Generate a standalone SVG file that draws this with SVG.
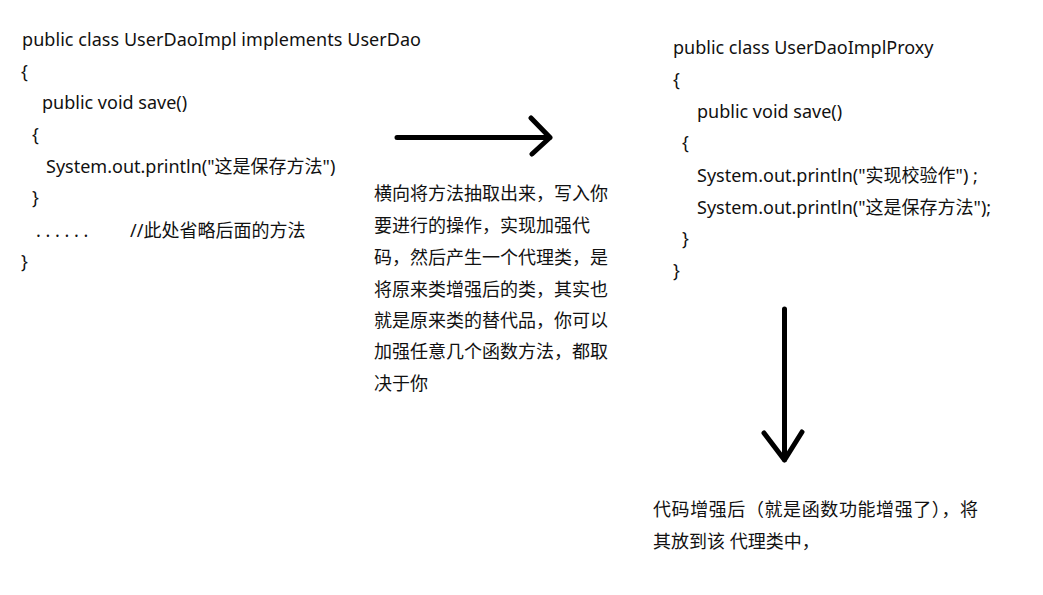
<svg xmlns="http://www.w3.org/2000/svg" width="1043" height="595" viewBox="0 0 1043 595">
<style>
text{font-family:"Noto Sans","Noto Sans CJK SC",sans-serif;font-size:18px;fill:#111}
.arrow{stroke:#000;stroke-width:5;fill:none;stroke-linecap:round;stroke-linejoin:round}
</style>
<rect width="1043" height="595" fill="#fff"/>
<g id="original-class">
<text x="22" y="46" textLength="399">public class UserDaoImpl implements UserDao</text>
<text x="21" y="78">{</text>
<text x="42" y="109">public void save()</text>
<text x="32" y="141">{</text>
<text x="46" y="173">System.out.println("这是保存方法")</text>
<text x="32" y="204">}</text>
<text x="36" y="237">. . . . . .</text>
<text x="130" y="237">//此处省略后面的方法</text>
<text x="21" y="268">}</text>
</g>
<g id="explanation">
<text x="374" y="200">横向将方法抽取出来，写入你</text>
<text x="374" y="232">要进行的操作，实现加强代</text>
<text x="374" y="264">码，然后产生一个代理类，是</text>
<text x="374" y="296">将原来类增强后的类，其实也</text>
<text x="374" y="327">就是原来类的替代品，你可以</text>
<text x="374" y="358">加强任意几个函数方法，都取</text>
<text x="374" y="390">决于你</text>
</g>
<g id="proxy-class">
<text x="673" y="54">public class UserDaoImplProxy</text>
<text x="673" y="86">{</text>
<text x="697" y="118">public void save()</text>
<text x="682" y="149">{</text>
<text x="697" y="182">System.out.println("实现校验作") ;</text>
<text x="697" y="214">System.out.println("这是保存方法");</text>
<text x="682" y="245">}</text>
<text x="673" y="277">}</text>
</g>
<g id="result-note">
<text x="653" y="516" textLength="325">代码增强后（就是函数功能增强了），将</text>
<text x="653" y="548">其放到该 代理类中，</text>
</g>
<g id="connectors">
<path class="arrow" d="M397 137.5H550M531 118L550 137.5L532 154"/>
<path class="arrow" d="M784.5 309V460M764 433L784.5 460L802 432"/>
</g>
</svg>
